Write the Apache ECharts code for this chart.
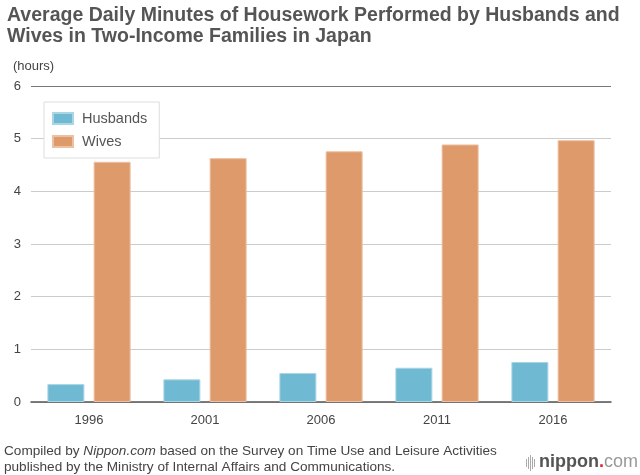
<!DOCTYPE html>
<html><head><meta charset="utf-8">
<script src="https://cdn.jsdelivr.net/npm/echarts@6/dist/echarts.min.js"></script>
<style>html,body{margin:0;padding:0;background:#fff}#c{width:640px;height:475px}</style>
</head><body><div id="c"></div>
<script>
const years = ['1996','2001','2006','2011','2016'];
const husbands = [0.34, 0.43, 0.55, 0.65, 0.76];
const wives = [4.56, 4.63, 4.76, 4.89, 4.97];
const yTicks = [0,1,2,3,4,5,6];

const chart = echarts.init(document.getElementById('c'), null, {renderer:'canvas'});
const F = 'Liberation Sans, Arial, Helvetica, sans-serif';
chart.setOption({
  animation:false,
  backgroundColor:'#fff',
  title:{
    text:'Average Daily Minutes of Housework Performed by Husbands and\nWives in Two-Income Families in Japan',
    left:2, top:0,
    textStyle:{fontFamily:F, fontSize:19.5, fontWeight:'bold', color:'#555', lineHeight:21}
  },
  legend:{
    left:44, top:102, orient:'vertical',
    padding:[9,12,9,8], itemGap:8,
    backgroundColor:'#fff', borderColor:'#ddd', borderWidth:1,
    itemWidth:20, itemHeight:11, icon:'rect',
    textStyle:{fontFamily:F, fontSize:14.5, color:'#555', padding:[0,0,0,4]},
    data:['Husbands','Wives']
  },
  grid:{left:31, right:29, top:86, bottom:73, containLabel:false},
  xAxis:{
    type:'category', data:years,
    axisLine:{lineStyle:{color:'#555', width:1.5}},
    axisTick:{show:false},
    axisLabel:{fontFamily:F, fontSize:13, color:'#444', margin:12}
  },
  yAxis:{
    type:'value', min:0, max:6, interval:1,
    name:'(hours)', nameLocation:'end', nameGap:13,
    nameTextStyle:{fontFamily:F, fontSize:13, color:'#444', align:'left', padding:[0,0,0,-18]},
    axisLine:{show:false}, axisTick:{show:false},
    axisLabel:{fontFamily:F, fontSize:13, color:'#444', margin:10,
      formatter:function(v){return yTicks.indexOf(v)>=0?String(v):'';}},
    splitLine:{lineStyle:{color:['#ccc','#ccc','#ccc','#ccc','#ccc','#ccc','#777'], width:1}}
  },
  series:[
    {name:'Husbands', type:'bar', data:husbands, barWidth:37, barGap:'25%',
     itemStyle:{color:'#70b9d3', borderColor:'#a9d5e5', borderWidth:1}},
    {name:'Wives', type:'bar', data:wives, barWidth:37,
     itemStyle:{color:'#df9a6c', borderColor:'#ecc0a2', borderWidth:1}}
  ],
  graphic:[
    {type:'text', x:4, y:444, style:{
      text:'{n|Compiled by }{i|Nippon.com}{n| based on the Survey on Time Use and Leisure Activities}',
      rich:{n:{fontFamily:F, fontSize:13.6, fill:'#444'}, i:{fontFamily:F, fontSize:13.6, fontStyle:'italic', fill:'#444'}}}},
    {type:'text', x:4, y:460, style:{text:'published by the Ministry of Internal Affairs and Communications.',
      font:'13.6px '+F, fill:'#444'}},
    {type:'group', left:526, top:453, children:[
      {type:'rect', shape:{x:0,y:4,width:1,height:8}, style:{fill:'#aaa'}},
      {type:'rect', shape:{x:2,y:2,width:1,height:12}, style:{fill:'#aaa'}},
      {type:'rect', shape:{x:4,y:0,width:1,height:16}, style:{fill:'#aaa'}},
      {type:'rect', shape:{x:6,y:2,width:1,height:12}, style:{fill:'#aaa'}},
      {type:'rect', shape:{x:8,y:4,width:1,height:8}, style:{fill:'#aaa'}},
      {type:'text', x:13, y:-2, style:{
        text:'{a|nippon}{b|.}{c|com}',
        rich:{a:{fontFamily:F, fontSize:18, fontWeight:'bold', fill:'#555'},
              b:{fontFamily:F, fontSize:18, fontWeight:'bold', fill:'#e0262b'},
              c:{fontFamily:F, fontSize:18, fill:'#999'}}}}
    ]}
  ]
});
</script></body></html>
